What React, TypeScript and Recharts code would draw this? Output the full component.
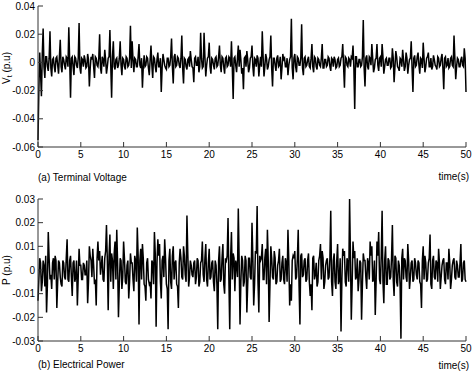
import React from 'react';
import { LineChart, Line, XAxis, YAxis } from 'recharts';

const STEP = 0.2; // s between main samples; mid samples sit halfway between them

const timeTicks = [0, 5, 10, 15, 20, 25, 30, 35, 40, 45, 50];
const vtTicks = [-0.06, -0.04, -0.02, 0, 0.02, 0.04];
const peTicks = [-0.03, -0.02, -0.01, 0, 0.01, 0.02, 0.03];

// (a) Terminal voltage deviation (p.u), at t = 0, 0.2, 0.4 ... 50 s
const vtValues = [
  -0.055, 0.007, -0.024, 0.024, -0.011, 0.004, -0.006, 0.022, -0.01, 0.003,
  -0.007, 0.004, -0.008, 0.016, -0.007, 0.002, -0.005, 0.003, 0.025, -0.025,
  0.004, -0.009, 0.003, -0.004, 0.028, -0.008, 0.002, 0.005, -0.004, 0.006,
  -0.017, 0.004, 0.006, -0.011, 0.003, -0.003, 0.02, -0.008, 0.002, 0.009,
  -0.008, 0.003, 0.023, -0.025, 0.015, -0.005, 0.003, -0.002, 0.015, -0.009,
  0.002, -0.005, 0.003, -0.002, 0.026, 0.015, -0.007, 0.002, -0.003, 0.013,
  -0.004, -0.018, 0.005, -0.002, 0.003, -0.009, 0.012, -0.011, 0.003, -0.007,
  0.007, -0.003, -0.021, 0.006, -0.002, -0.005, 0.003, -0.002, 0.017, -0.015,
  0.006, -0.002, 0.003, -0.004, 0.019, -0.015, 0.002, -0.005, 0.003, 0.008,
  -0.003, -0.014, 0.004, -0.002, -0.007, 0.021, -0.004, 0.021, -0.01, 0.003,
  0.014, -0.008, 0.002, -0.005, 0.004, -0.002, 0.012, -0.007, 0.003, -0.008,
  0.004, -0.002, 0.003, 0.015, -0.026, 0.004, -0.007, 0.012, 0.009, -0.008,
  -0.019, 0.004, 0.008, -0.007, 0.003, 0.012, -0.01, 0.002, 0.005, -0.01,
  0.004, 0.022, -0.01, 0.006, -0.005, 0.002, 0.019, -0.017, 0.003, -0.006,
  0.005, -0.002, -0.012, 0.006, 0.003, -0.003, -0.009, 0.002, 0.031, -0.012,
  0.006, -0.007, 0.003, -0.002, 0.027, -0.009, 0.004, -0.002, 0.004, -0.004,
  0.013, -0.007, 0.003, -0.005, 0.002, -0.003, 0.013, -0.004, 0.002, -0.002,
  0.003, -0.006, 0.002, 0.004, -0.004, 0.002, -0.003, 0.003, 0.013, -0.018,
  0.003, -0.003, 0.002, 0.004, 0.012, -0.033, 0.004, -0.003, 0.002, -0.002,
  0.03, -0.017, 0.005, -0.005, 0.003, 0.013, -0.007, 0.002, 0.013, -0.006,
  0.004, 0.013, -0.008, 0.002, -0.002, 0.003, -0.004, 0.01, -0.014, 0.008,
  -0.003, -0.006, 0.002, 0.009, -0.006, 0.007, -0.008, 0.002, 0.015, -0.021,
  0.005, -0.002, 0.007, -0.008, 0.002, 0.014, -0.007, 0.003, 0.007, -0.003,
  -0.005, 0.005, -0.002, -0.005, 0.003, -0.002, 0.006, -0.019, 0.004, -0.002,
  -0.004, 0.003, -0.002, 0.019, -0.012, 0.003, -0.003, 0.002, -0.002, 0.01,
  -0.021,
];

// (a) values at t = 0.1, 0.3, 0.5 ... 49.9 s
const vtMid = [
  -0.02, -0.008, 0.006, -0.003, 0.004, -0.003, 0.003, -0.004, 0.002, -0.003,
  0.003, -0.002, 0.004, -0.003, 0.004, -0.002, 0.004, -0.003, 0.002, 0.003,
  -0.003, 0.004, -0.002, 0.003, -0.004, 0.003, -0.003, 0.002, -0.003, 0.002,
  -0.004, 0.002, -0.003, 0.004, -0.002, 0.003, -0.004, 0.004, -0.003, 0.002,
  -0.003, 0.004, -0.002, 0.004, -0.003, 0.002, -0.004, 0.003, -0.002, 0.003,
  -0.003, 0.004, -0.003, 0.003, -0.004, 0.002, 0.003, -0.003, 0.004, -0.002,
  0.003, -0.003, -0.003, 0.004, -0.004, 0.002, -0.002, 0.004, -0.003, 0.002,
  -0.003, 0.003, -0.004, 0.002, -0.004, 0.003, -0.003, 0.004, -0.003, 0.004,
  -0.003, 0.004, -0.002, 0.003, -0.004, 0.003, -0.003, 0.002, -0.003, 0.002,
  -0.004, 0.003, -0.002, 0.004, -0.003, 0.003, -0.003, 0.004, -0.002, 0.004,
  -0.003, 0.003, -0.002, 0.003, -0.003, 0.004, -0.002, 0.004, -0.003, 0.003,
  -0.003, 0.004, -0.003, -0.004, 0.003, -0.002, 0.003, -0.003, 0.002, -0.004,
  0.003, -0.003, 0.002, -0.004, 0.004, -0.003, 0.003, -0.003, 0.003, -0.002,
  -0.003, 0.004, -0.003, 0.003, -0.003, 0.004, -0.004, 0.003, -0.002, 0.003,
  -0.003, 0.004, -0.004, 0.002, -0.003, 0.003, -0.002, 0.004, -0.004, 0.003,
  -0.003, 0.004, -0.002, 0.003, -0.004, 0.003, -0.003, 0.002, -0.003, 0.003,
  -0.003, 0.004, -0.003, 0.003, -0.002, 0.003, -0.004, 0.002, -0.003, 0.004,
  -0.003, 0.003, -0.003, 0.002, -0.003, 0.003, -0.002, 0.004, -0.003, 0.004,
  -0.002, 0.003, -0.003, 0.003, -0.004, 0.004, -0.003, 0.002, -0.003, 0.004,
  -0.004, 0.003, -0.003, 0.004, -0.002, 0.003, -0.004, 0.003, -0.002, 0.003,
  -0.003, 0.004, -0.003, 0.003, -0.002, 0.003, -0.003, 0.003, -0.003, 0.004,
  -0.004, 0.003, -0.003, 0.002, -0.003, 0.003, -0.002, 0.003, -0.004, 0.003,
  -0.003, 0.004, -0.002, 0.003, -0.004, 0.003, -0.003, 0.004, -0.003, 0.003,
  -0.003, 0.002, -0.003, 0.004, -0.003, 0.003, -0.004, 0.003, -0.003, 0.003,
  -0.003, 0.004, -0.003, 0.003, -0.003, 0.002, -0.003, 0.004, -0.003, 0.003,
];

// (b) Electrical power deviation (p.u), at t = 0, 0.2, 0.4 ... 50 s
const peValues = [
  -0.013, 0.005, -0.009, 0.004, -0.007, -0.018, 0.016, -0.004, -0.008, 0.005,
  0.006, -0.016, 0.004, -0.003, -0.007, 0.003, -0.004, 0.013, -0.005, 0.006,
  -0.011, 0.004, -0.003, -0.015, 0.009, 0.002, -0.004, 0.002, -0.002, -0.014,
  0.01, 0.004, 0.009, -0.006, -0.015, 0.012, 0.008, 0.002, -0.004, 0.005,
  0.019, -0.017, 0.015, 0.007, -0.008, 0.012, 0.017, -0.02, 0.005, -0.008,
  0.012, -0.005, 0.002, -0.012, 0.007, 0.003, -0.009, 0.004, 0.018, -0.023,
  0.009, 0.011, -0.006, -0.013, 0.005, -0.006, -0.012, 0.003, 0.016, -0.024,
  0.013, 0.011, -0.012, 0.006, 0.013, -0.006, -0.025, 0.009, -0.008, 0.01,
  0.003, -0.006, -0.016, 0.009, -0.003, 0.01, -0.002, 0.023, -0.007, 0.004,
  -0.002, 0.003, -0.006, 0.005, -0.007, 0.003, 0.012, -0.005, 0.011, -0.007,
  0.009, -0.003, 0.004, -0.009, 0.002, -0.025, 0.01, -0.004, 0.011, -0.01,
  0.004, 0.022, -0.025, 0.016, 0.007, -0.009, 0.002, 0.026, -0.023, 0.006,
  -0.007, 0.006, -0.018, 0.005, -0.003, 0.02, -0.015, 0.008, 0.027, -0.018,
  0.004, 0.011, -0.004, 0.009, 0.017, -0.022, 0.01, -0.003, 0.008, -0.006,
  0.002, 0.009, -0.004, 0.006, -0.006, 0.003, 0.017, -0.015, -0.013, 0.006,
  0.008, -0.003, 0.017, -0.023, 0.007, -0.002, 0.005, -0.004, 0.007, -0.011,
  -0.017, 0.006, -0.002, -0.007, 0.004, 0.011, 0.008, -0.008, 0.002, 0.005,
  -0.003, 0.025, -0.011, 0.007, -0.008, 0.011, -0.004, -0.026, 0.009, 0.008,
  -0.007, 0.003, 0.03, -0.021, 0.012, 0.008, -0.003, -0.009, 0.004, -0.021,
  0.007, 0.004, -0.008, 0.003, 0.012, 0.01, -0.004, -0.019, 0.012, 0.016,
  -0.006, 0.025, -0.014, 0.01, -0.006, 0.004, -0.003, 0.019, -0.011, 0.005,
  -0.007, 0.002, -0.029, 0.009, 0.005, -0.003, 0.011, -0.008, 0.003, -0.005,
  0.005, -0.002, 0.004, -0.005, -0.016, 0.01, 0.006, -0.005, 0.003, 0.015,
  -0.008, 0.006, -0.004, 0.003, 0.009, -0.008, 0.002, 0.005, -0.006, 0.003,
  0.009, -0.008, 0.002, 0.005, -0.004, 0.002, -0.003, 0.011, -0.004, 0.004,
  -0.005,
];

// (b) values at t = 0.1, 0.3, 0.5 ... 49.9 s
const peMid = [
  -0.004, 0.003, -0.005, 0.002, 0.006, -0.006, 0.005, -0.002, 0.003, -0.004,
  0.004, -0.005, 0.003, -0.006, 0.004, -0.003, 0.005, -0.004, 0.004, -0.003,
  0.003, -0.005, 0.004, -0.003, 0.002, -0.004, 0.003, -0.002, 0.004, -0.005,
  0.006, -0.003, 0.002, -0.004, 0.005, 0.004, -0.002, 0.006, -0.005, 0.008,
  0.004, 0.006, -0.005, 0.004, 0.007, -0.004, 0.003, -0.006, 0.004, -0.003,
  0.005, -0.006, 0.004, -0.005, 0.003, -0.004, 0.006, -0.005, 0.006, 0.004,
  -0.004, 0.005, -0.007, 0.003, -0.004, -0.005, 0.004, -0.006, 0.007, 0.003,
  0.006, -0.005, 0.004, -0.003, 0.005, -0.008, 0.004, -0.005, 0.006, -0.004,
  0.004, -0.007, 0.003, 0.005, -0.004, 0.006, -0.005, 0.007, -0.003, 0.002,
  -0.003, 0.004, -0.003, 0.004, -0.005, 0.004, -0.002, 0.005, -0.004, 0.003,
  -0.004, 0.003, -0.005, 0.004, -0.006, 0.004, -0.005, 0.005, -0.006, 0.005,
  0.006, -0.004, 0.005, -0.004, 0.005, 0.004, -0.003, 0.004, -0.005, 0.004,
  -0.005, 0.004, -0.006, 0.005, -0.004, 0.005, -0.006, 0.007, -0.005, 0.006,
  0.005, -0.004, 0.005, -0.006, 0.004, -0.006, 0.005, -0.004, 0.005, -0.005,
  0.004, -0.005, 0.003, -0.004, 0.005, -0.005, 0.004, -0.006, 0.004, 0.005,
  -0.004, 0.005, -0.007, 0.006, -0.003, 0.004, -0.005, 0.004, -0.005, -0.006,
  0.005, -0.004, 0.003, -0.005, 0.006, -0.004, 0.005, -0.005, 0.004, -0.004,
  0.005, -0.005, 0.004, -0.005, 0.004, -0.006, 0.005, -0.004, 0.006, -0.005,
  0.005, -0.005, 0.006, -0.006, 0.005, -0.004, 0.005, -0.004, 0.003, -0.006,
  0.004, -0.003, 0.005, -0.004, 0.006, -0.005, 0.004, -0.005, 0.006, -0.004,
  0.006, -0.005, 0.004, -0.006, 0.005, -0.004, 0.005, -0.004, 0.006, -0.005,
  0.004, -0.006, 0.005, -0.004, 0.004, -0.005, 0.004, -0.003, 0.004, -0.004,
  0.003, -0.004, 0.003, -0.006, 0.004, -0.004, 0.003, -0.004, 0.005, -0.006,
  0.004, -0.003, 0.004, -0.005, 0.003, -0.003, 0.004, -0.004, 0.003, -0.004,
  0.003, -0.004, 0.004, -0.003, 0.004, -0.003, 0.003, -0.005, 0.003, -0.004,
];

function buildSeries(main: number[], mid: number[]) {
  const out: { t: number; v: number }[] = [];
  main.forEach((v, i) => {
    out.push({ t: +(i * STEP).toFixed(1), v });
    if (i < mid.length) out.push({ t: +(i * STEP + STEP / 2).toFixed(1), v: mid[i] });
  });
  return out;
}

const vtData = buildSeries(vtValues, vtMid);
const peData = buildSeries(peValues, peMid);

const FONT = "'Liberation Sans', Arial, Helvetica, sans-serif";
const AXIS = '#333';
const tickStyle = { fill: '#000', fontSize: 10, fontFamily: FONT };

function Panel({ data, yTicks, yDomain, margin, height }: any) {
  return (
    <LineChart width={474} height={height} data={data} margin={margin}>
      <XAxis
        xAxisId="b"
        dataKey="t"
        type="number"
        domain={[0, 50]}
        ticks={timeTicks}
        height={20}
        tick={tickStyle}
        tickSize={-5}
        tickMargin={9}
        stroke={AXIS}
        interval={0}
      />
      <XAxis
        xAxisId="top"
        orientation="top"
        dataKey="t"
        type="number"
        domain={[0, 50]}
        ticks={timeTicks}
        height={0}
        tick={false}
        tickSize={-5}
        stroke={AXIS}
      />
      <YAxis
        yAxisId="l"
        type="number"
        domain={yDomain}
        ticks={yTicks}
        width={38}
        tick={tickStyle}
        tickSize={-5}
        tickMargin={8}
        stroke={AXIS}
        interval={0}
        tickFormatter={(v: number) => (v === 0 ? '0' : String(v))}
      />
      <YAxis
        yAxisId="r"
        orientation="right"
        type="number"
        domain={yDomain}
        ticks={yTicks}
        width={0}
        tick={false}
        tickSize={-5}
        stroke={AXIS}
      />
      <Line
        xAxisId="b"
        yAxisId="l"
        type="linear"
        dataKey="v"
        stroke="#000"
        strokeWidth={1.5}
        dot={false}
        isAnimationActive={false}
      />
    </LineChart>
  );
}

export default function App() {
  return (
    <div
      style={{
        position: 'absolute',
        left: 0,
        top: 0,
        width: 474,
        height: 374,
        background: '#fff',
        overflow: 'hidden',
      }}
    >
      <div style={{ position: 'absolute', left: 0, top: 0 }}>
        <Panel
          data={vtData}
          yTicks={vtTicks}
          yDomain={[-0.06, 0.04]}
          height={190}
          margin={{ top: 6, right: 8, bottom: 23, left: 0 }}
        />
      </div>
      <div style={{ position: 'absolute', left: 0, top: 190 }}>
        <Panel
          data={peData}
          yTicks={peTicks}
          yDomain={[-0.03, 0.03]}
          height={184}
          margin={{ top: 9, right: 8, bottom: 13, left: 0 }}
        />
      </div>
      <svg
        width={474}
        height={374}
        style={{ position: 'absolute', left: 0, top: 0, pointerEvents: 'none' }}
        fontFamily={FONT}
        fontSize={10}
        fill="#000"
      >
        <text transform="rotate(-90)" x={-68} y={10} textAnchor="middle">
          V<tspan fontSize={7} dy={2}>t</tspan>
          <tspan dy={-2}> (p.u)</tspan>
        </text>
        <text transform="rotate(-90)" x={-270} y={10} textAnchor="middle">
          P (p.u)
        </text>
        <text x={38} y={181}>(a) Terminal Voltage</text>
        <text x={469} y={180} textAnchor="end">time(s)</text>
        <text x={38} y={368}>(b) Electrical Power</text>
        <text x={469} y={369} textAnchor="end">time(s)</text>
      </svg>
    </div>
  );
}
